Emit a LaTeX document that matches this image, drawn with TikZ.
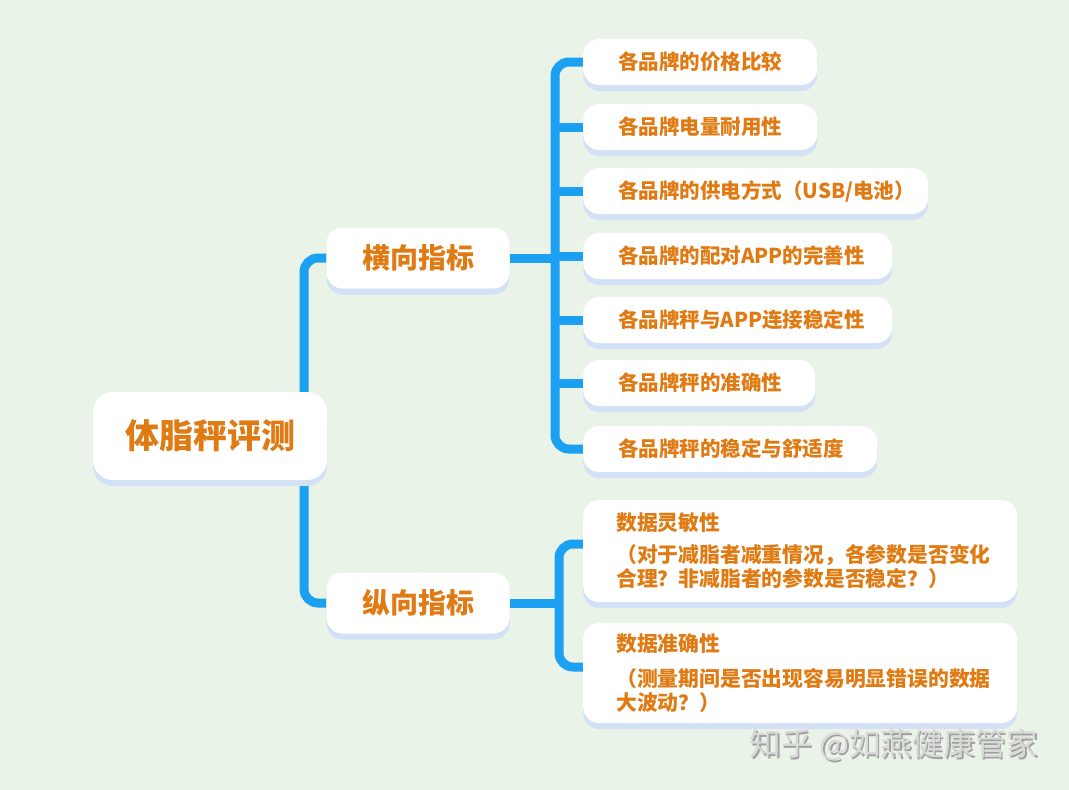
\documentclass[tikz,border=0pt]{standalone}
\usepackage{fontspec}
\setmainfont{Noto Sans CJK SC}
\usetikzlibrary{shadows,calc}
\pgfdeclarelayer{background}
\pgfsetlayers{background,main}
\definecolor{bgc}{HTML}{EAF3E8}
\definecolor{txt}{HTML}{E07A12}
\definecolor{lineblue}{HTML}{1CA0F2}
\definecolor{shb}{HTML}{D3E1F7}
\definecolor{wmc}{HTML}{D8D8D8}
\definecolor{wms}{HTML}{A0A0A0}
\tikzset{
  card/.style={fill=white, draw=none, rounded corners=16pt, text=txt,
    drop shadow={shadow xshift=0pt, shadow yshift=-6pt, fill=shb, opacity=1}},
  rootbox/.style={card, rounded corners=20pt, minimum width=234pt, minimum height=88pt,
    inner sep=0pt, font=\fontsize{34}{40}\selectfont\bfseries},
  branchbox/.style={card, minimum width=183pt, minimum height=61pt,
    inner sep=0pt, font=\fontsize{28}{32}\selectfont\bfseries},
  leafbox/.style={card, anchor=west, minimum height=46pt, inner xsep=35pt, inner ysep=0pt,
    text width=#1-70pt, align=left, font=\fontsize{20.5}{24}\selectfont\bfseries},
  bigleaf/.style={card, anchor=west, minimum width=434pt, inner xsep=33pt, inner ysep=0pt,
    text width=368pt, align=left, font=\fontsize{20.8}{24}\selectfont\bfseries},
  conn/.style={draw=lineblue, line width=9pt, rounded corners=14pt},
}
\begin{document}
\begin{tikzpicture}[x=1pt,y=-1pt]
\useasboundingbox (0,0) rectangle (1069,790);
\begin{pgfonlayer}{background}
\fill[bgc] (0,0) rectangle (1069,790);
\end{pgfonlayer}

% root and branches
\node[rootbox] (root) at (210,436) {体脂秤评测};
\node[branchbox] (h) at (418,258) {横向指标};
\node[branchbox] (v) at (418,603) {纵向指标};

% leaves of 横向指标
\node[leafbox=234pt] (l1) at (583,62) {各品牌的价格比较};
\node[leafbox=234pt] (l2) at (583,127) {各品牌电量耐用性};
\node[leafbox=345pt] (l3) at (583,191) {各品牌的供电方式（USB/电池）};
\node[leafbox=309pt] (l4) at (583,256) {各品牌的配对APP的完善性};
\node[leafbox=309pt] (l5) at (583,320) {各品牌秤与APP连接稳定性};
\node[leafbox=232pt] (l6) at (583,383) {各品牌秤的准确性};
\node[leafbox=294pt] (l7) at (583,449) {各品牌秤的稳定与舒适度};

% leaves of 纵向指标
\node[bigleaf, minimum height=102pt] (a) at (583,551) {数据灵敏性\\[8pt]（对于减脂者减重情况，各参数是否变化\\合理？非减脂者的参数是否稳定？）};
\node[bigleaf, minimum height=100pt] (b) at (583,673) {数据准确性\\[11pt]（测量期间是否出现容易明显错误的数据\\大波动？）};

% junction coordinates
\coordinate (rj) at (304,436);
\coordinate (hj) at (555,258);
\coordinate (vj) at (559,603);
\coordinate (at) at ($(a.west)+(0,-7)$);
\coordinate (bt) at ($(b.west)+(0,-6)$);

\begin{pgfonlayer}{background}
  \draw[conn] (h.west) -- (h.west -| rj) -- (v.west -| rj) -- (v.west);
  \draw[conn] (l1.west) -- (l1.west -| hj) -- (l7.west -| hj) -- (l7.west);
  \draw[conn, rounded corners=0pt] (h.east) -- (hj);
  \foreach \n in {l2,l3,l4,l5,l6}
    \draw[conn, rounded corners=0pt] (\n.west -| hj) -- (\n.west);
  \draw[conn] (at) -- (at -| vj) -- (bt -| vj) -- (bt);
  \draw[conn, rounded corners=0pt] (v.east) -- (vj);
\end{pgfonlayer}

% watermark
\node[text=wms, font=\fontsize{31.5}{34}\selectfont, anchor=west] (wmshadow) at (747.5,746.5) {知乎 @如燕健康管家};
\node[text=wmc, font=\fontsize{31.5}{34}\selectfont, anchor=west] (wm) at (746,745) {知乎 @如燕健康管家};
\end{tikzpicture}
\end{document}
